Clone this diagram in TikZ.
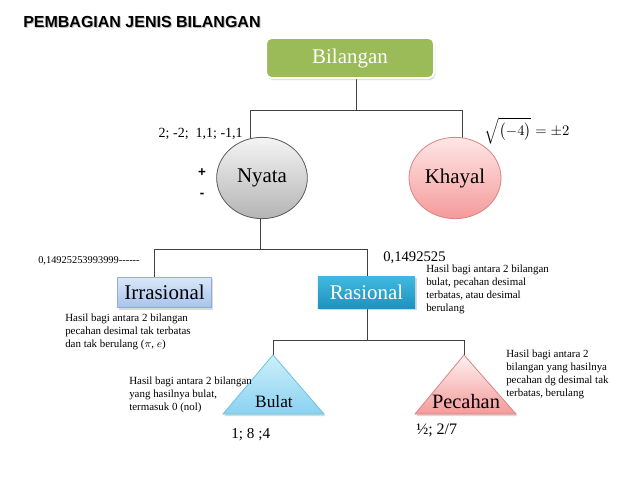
\documentclass[tikz,border=0pt]{standalone}
\usepackage{amsmath}
\usepackage{fontspec}
\setmainfont{Liberation Serif}
\newfontfamily\arialfont{Liberation Sans}
\usetikzlibrary{shadows,backgrounds,shapes.geometric}

\definecolor{hijau}{HTML}{9BBB59}
\definecolor{garisabu}{HTML}{404040}
\definecolor{abuatas}{HTML}{F4F4F4}
\definecolor{abubawah}{HTML}{B4B4B4}
\definecolor{merahatas}{HTML}{FFE6E6}
\definecolor{merahbawah}{HTML}{F49A9A}
\definecolor{merahtepi}{HTML}{D98484}
\definecolor{biruatas}{HTML}{DAE7F8}
\definecolor{birubawah}{HTML}{A7C3EC}
\definecolor{birutepi}{HTML}{8FAEDB}
\definecolor{tosqatas}{HTML}{40B9E0}
\definecolor{tosqbawah}{HTML}{1F92BE}
\definecolor{langitatas}{HTML}{CDEFFB}
\definecolor{langitbawah}{HTML}{8AD2F0}
\definecolor{langittepi}{HTML}{6BC2E5}

\begin{document}
\begin{tikzpicture}[x=0.75pt,y=-0.75pt,
  bayang/.style={drop shadow={shadow xshift=1pt,shadow yshift=-1.5pt,opacity=0.3}},
  besar/.style={font=\fontsize{15.7}{18}\selectfont},
  ket/.style={font=\fontsize{8.2}{9.6}\selectfont,align=left,anchor=north west,inner sep=0pt},
  angka/.style={font=\fontsize{10.5}{12}\selectfont,inner sep=0pt,anchor=base west},
  garis/.style={draw=garisabu,line width=0.7pt}]
\useasboundingbox (0,0) rectangle (638,478);

% judul
\node[anchor=base west,inner sep=0pt,text=black!25,font=\arialfont\bfseries\fontsize{12}{14}\selectfont]
  (judulbayang) at (24,29) {PEMBAGIAN JENIS BILANGAN};
\node[anchor=base west,inner sep=0pt,font=\arialfont\bfseries\fontsize{12}{14}\selectfont]
  (judul) at (23,28) {PEMBAGIAN JENIS BILANGAN};

% tingkat 1
\node[besar,fill=hijau,draw=white,line width=1.5pt,rounded corners=4pt,text=white,
  minimum width=126pt,minimum height=30pt,bayang] (bil) at (350,58) {Bilangan};

% tingkat 2
\node[besar,ellipse,draw=black!65,line width=0.6pt,top color=abuatas,bottom color=abubawah,
  minimum width=68pt,minimum height=61pt,inner sep=0pt] (nyata) at (262,178) {Nyata};
\node[besar,ellipse,draw=merahtepi,line width=0.6pt,top color=merahatas,bottom color=merahbawah,
  minimum width=69pt,minimum height=61pt,inner sep=0pt] (khayal) at (455,178) {Khayal};

% tingkat 3
\node[besar,draw=birutepi,line width=0.6pt,top color=biruatas,bottom color=birubawah,
  minimum width=71pt,minimum height=23pt,inner sep=0pt,bayang] (irr) at (164.5,292.5) {Irrasional};
\node[besar,top color=tosqatas,bottom color=tosqbawah,text=white,
  minimum width=73pt,minimum height=24pt,inner sep=0pt,bayang] (ras) at (366.5,292) {Rasional};

% tingkat 4
\coordinate (pbulat) at (273,355);
\coordinate (ppecahan) at (464,355);
\shade[top color=langitatas,bottom color=langitbawah,draw=langittepi,line width=0.6pt,bayang]
  (pbulat) -- (223,414) -- (324,414) -- cycle;
\shade[top color=merahatas!80!red!20,bottom color=merahbawah,draw=merahtepi,line width=0.6pt,bayang]
  (ppecahan) -- (415,414) -- (516,414) -- cycle;
\node[font=\fontsize{13}{15}\selectfont,anchor=base,inner sep=0pt] (bulat) at (274,407) {Bulat};
\node[font=\fontsize{15.3}{17}\selectfont,anchor=base,inner sep=0pt] (pecahan) at (466,408) {Pecahan};

% penghubung
\coordinate (c1) at (356,110);
\coordinate (ki1) at (250,110);
\coordinate (ka1) at (462,110);
\coordinate (c2) at (260,249);
\coordinate (ki2) at (154,249);
\coordinate (ka2) at (367,249);
\coordinate (c3) at (367,340);
\coordinate (ki3) at (273,340);
\coordinate (ka3) at (464,340);
\begin{scope}[on background layer]
  \draw[garis] (bil.south -| c1) -- (c1);
  \draw[garis] (ki1) -- (ka1);
  \draw[garis] (ki1) -- (ki1 |- nyata.center);
  \draw[garis] (ka1) -- (ka1 |- khayal.center);
  \draw[garis] (nyata.center -| c2) -- (c2);
  \draw[garis] (ki2) -- (ka2);
  \draw[garis] (ki2) -- (ki2 |- irr.center);
  \draw[garis] (ka2) -- (c3);
  \draw[garis] (ki3) -- (ka3);
  \draw[garis] (ki3) -- (pbulat);
  \draw[garis] (ka3) -- (ppecahan);
\end{scope}

% contoh dan keterangan
\node[angka,anchor=base east] (cnyata) at (243,137) {2; -2;\ \ 1,1; -1,1};
\node[font=\arialfont\bfseries\fontsize{10}{12}\selectfont,inner sep=0pt] (plus) at (202,173) {+};
\node[font=\arialfont\bfseries\fontsize{10}{12}\selectfont,inner sep=0pt] (minus) at (202,195) {-};
\node[font=\fontsize{11}{13}\selectfont,inner sep=0pt] (ckhayal) at (527,131) {$\sqrt{\bigl(-4\bigr)}=\pm 2$};
\node[angka,font=\fontsize{7.8}{9}\selectfont] (cirr) at (38,263) {0,14925253993999-{}-{}-{}-{}-{}-};
\node[angka,font=\fontsize{11}{13}\selectfont] (cras) at (383,261) {0,1492525};
\node[ket] (kras) at (426,265) {Hasil bagi antara 2 bilangan\\bulat, pecahan desimal\\terbatas, atau desimal\\berulang};
\node[ket] (kirr) at (65,314) {Hasil bagi antara 2 bilangan\\pecahan desimal tak terbatas\\dan tak berulang ($\pi$, $e$)};
\node[ket] (kbulat) at (129,377) {Hasil bagi antara 2 bilangan\\yang hasilnya bulat,\\termasuk 0 (nol)};
\node[ket] (kpecahan) at (506,350) {Hasil bagi antara 2\\bilangan yang hasilnya\\pecahan dg desimal tak\\terbatas, berulang};
\node[angka,font=\fontsize{11.4}{13}\selectfont] (cbulat) at (231,438) {1; 8 ;4};
\node[angka,font=\fontsize{12}{14}\selectfont] (cpecahan) at (416,434) {½; 2/7};
\end{tikzpicture}
\end{document}
